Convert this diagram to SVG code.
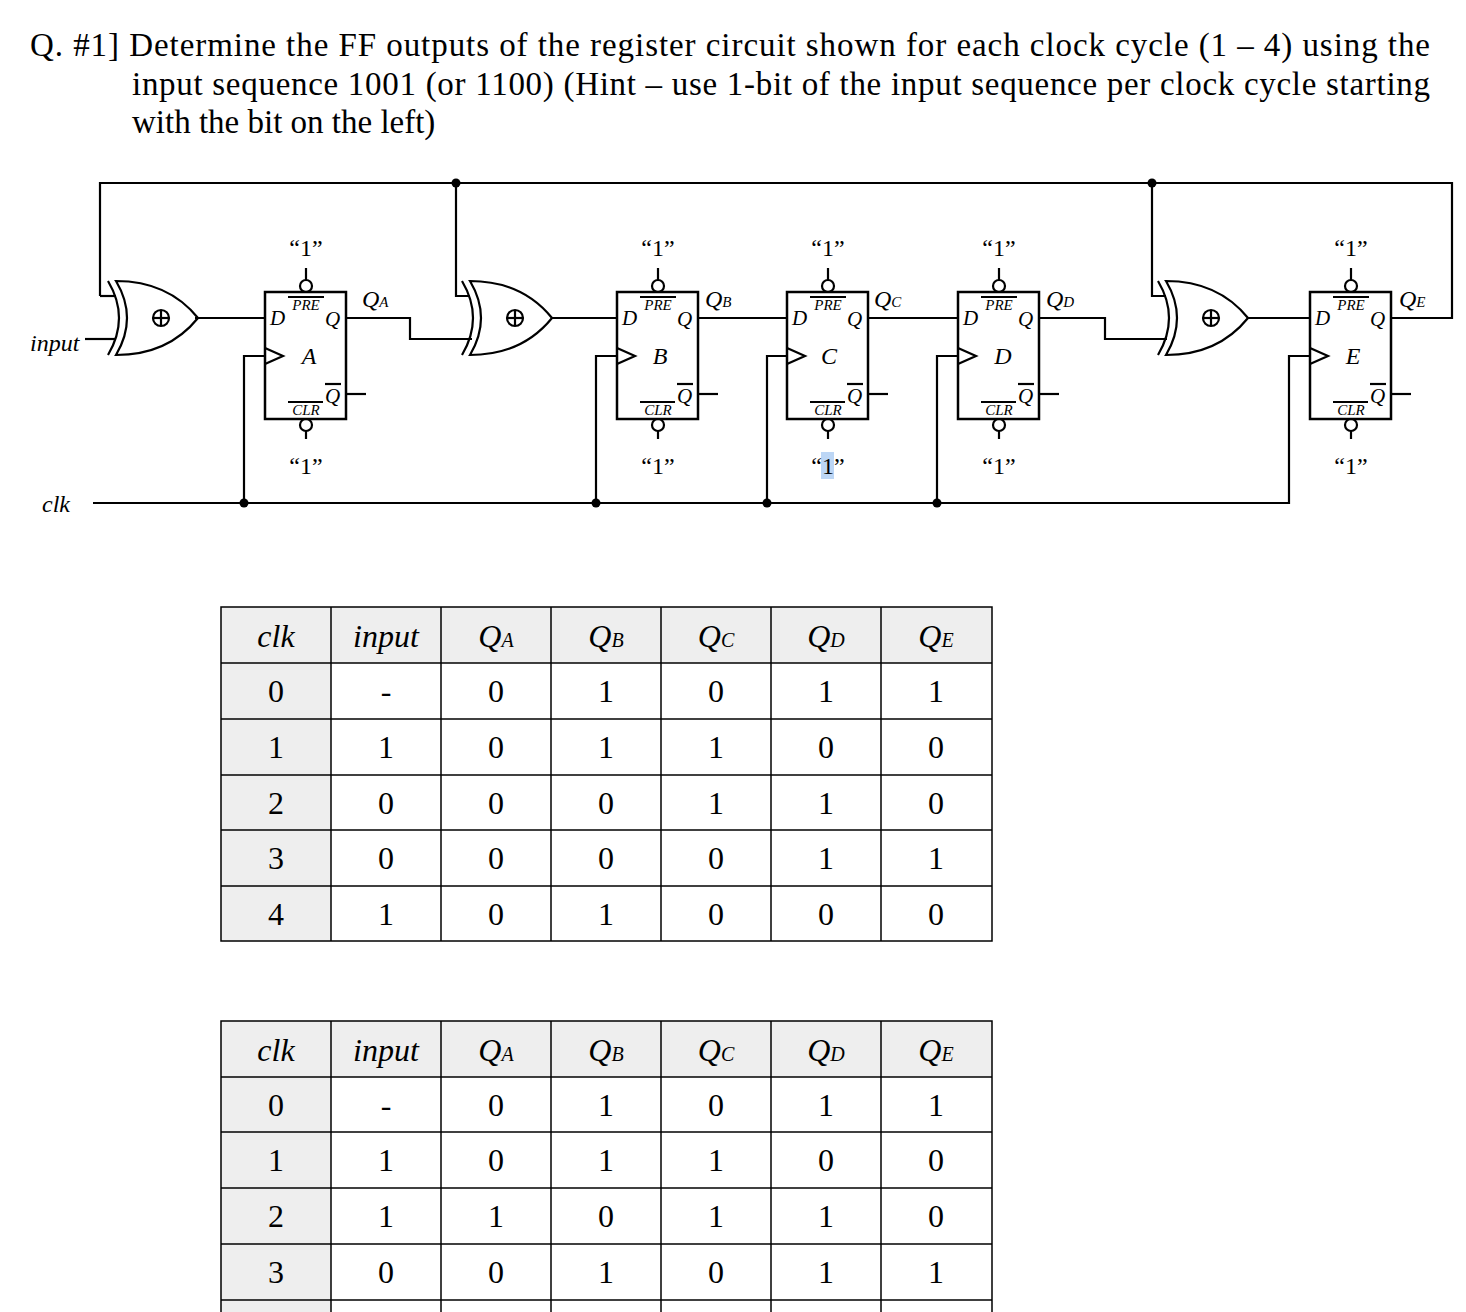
<svg xmlns="http://www.w3.org/2000/svg" width="1466" height="1312" viewBox="0 0 1466 1312">
<style>
.w{fill:none;stroke:#000;stroke-width:2.2}
.t{font-family:"Liberation Serif",serif;fill:#000}
.i{font-style:italic}
.ff{fill:#fff;stroke:#000;stroke-width:2.5}
.c{text-anchor:middle}
.g{fill:#eeeeee}
.cell{fill:none;stroke:#000;stroke-width:1.5}
.tb{font-family:"Liberation Serif",serif;font-size:32px;text-anchor:middle}
</style>
<defs>
<g id="ffsym">
<rect class="ff" x="0" y="0" width="81" height="127"/>
<circle class="w" cx="41" cy="-6" r="6"/><line class="w" x1="41" y1="-12" x2="41" y2="-24"/>
<circle class="w" cx="41" cy="133" r="6"/><line class="w" x1="41" y1="139" x2="41" y2="147"/>
<path class="w" d="M0,56 L18,64 L0,72"/>
<text class="t i" x="5" y="33" font-size="21">D</text>
<text class="t i c" x="41" y="18" font-size="15">PRE</text><line class="w" stroke-width="1.2" x1="23" y1="5" x2="59" y2="5"/>
<text class="t i" x="60" y="34" font-size="21">Q</text>
<text class="t i" x="60" y="111" font-size="21">Q</text><line class="w" stroke-width="1.2" x1="60" y1="92" x2="76" y2="92"/>
<text class="t i c" x="41" y="123" font-size="15">CLR</text><line class="w" stroke-width="1.2" x1="23" y1="110" x2="58" y2="110"/>
<line class="w" x1="81" y1="102" x2="101" y2="102"/>
<text class="t c" x="41" y="-36" font-size="24">“1”</text>
<text class="t c" x="41" y="182" font-size="24">“1”</text>
</g>
<g id="xor">
<path class="w" stroke-width="2.5" d="M0,-37 Q52,-37 82,0 Q52,37 0,37 Q22,0 0,-37 Z"/>
<path class="w" stroke-width="2.5" d="M-8,-37 Q14,0 -8,37"/>
<circle class="w" stroke-width="1.8" cx="45" cy="0" r="8"/>
<line class="w" stroke-width="1.8" x1="37" y1="0" x2="53" y2="0"/><line class="w" stroke-width="1.8" x1="45" y1="-8" x2="45" y2="8"/>
</g>
</defs>

<g id="title" class="t" font-size="33">
<text x="30" y="56" textLength="1400" lengthAdjust="spacing">Q. #1] Determine the FF outputs of the register circuit shown for each clock cycle (1 – 4) using the</text>
<text x="132" y="95" textLength="1298" lengthAdjust="spacing">input sequence 1001 (or 1100) (Hint – use 1-bit of the input sequence per clock cycle starting</text>
<text x="132" y="133">with the bit on the left)</text>
</g>

<g id="connectors">
<polyline class="w" points="100,296 100,183 1452,183 1452,318 1391,318"/>
<polyline class="w" points="456,183 456,296 470,296"/>
<polyline class="w" points="1152,183 1152,296 1166,296"/>
<polyline class="w" points="100,296 116,296"/>
<polyline class="w" points="85,339 116,339"/>
<line class="w" x1="195" y1="318" x2="265" y2="318"/>
<polyline class="w" points="346,318 410,318 410,339 472,339"/>
<line class="w" x1="551" y1="318" x2="617" y2="318"/>
<line class="w" x1="698" y1="318" x2="787" y2="318"/>
<line class="w" x1="868" y1="318" x2="958" y2="318"/>
<polyline class="w" points="1039,318 1105,318 1105,339 1167,339"/>
<line class="w" x1="1247" y1="318" x2="1310" y2="318"/>
<polyline class="w" points="93,503 1289,503 1289,356 1310,356"/>
<polyline class="w" points="244,503 244,356 265,356"/>
<polyline class="w" points="596,503 596,356 617,356"/>
<polyline class="w" points="767,503 767,356 787,356"/>
<polyline class="w" points="937,503 937,356 958,356"/>
<circle cx="456" cy="183" r="4.5"/><circle cx="1152" cy="183" r="4.5"/>
<circle cx="244" cy="503" r="4.5"/><circle cx="596" cy="503" r="4.5"/><circle cx="767" cy="503" r="4.5"/><circle cx="937" cy="503" r="4.5"/>
</g>

<g id="xor1"><use href="#xor" transform="translate(116,318)"/></g>
<g id="xor2"><use href="#xor" transform="translate(470,318)"/></g>
<g id="xor3"><use href="#xor" transform="translate(1166,318)"/></g>

<rect x="821" y="452" width="13" height="27" fill="#bcd6f5"/>
<g id="ffA"><use href="#ffsym" transform="translate(265,292)"/><text class="t i c" x="309" y="364" font-size="24">A</text></g>
<g id="ffB"><use href="#ffsym" transform="translate(617,292)"/><text class="t i c" x="660" y="364" font-size="24">B</text></g>
<g id="ffC"><use href="#ffsym" transform="translate(787,292)"/><text class="t i c" x="829" y="364" font-size="24">C</text></g>
<g id="ffD"><use href="#ffsym" transform="translate(958,292)"/><text class="t i c" x="1003" y="364" font-size="24">D</text></g>
<g id="ffE"><use href="#ffsym" transform="translate(1310,292)"/><text class="t i c" x="1353" y="364" font-size="24">E</text></g>

<g id="labels" class="t i" font-size="24">
<text x="362" y="307">Q<tspan font-size="15">A</tspan></text>
<text x="705" y="307">Q<tspan font-size="15">B</tspan></text>
<text x="874" y="307">Q<tspan font-size="15">C</tspan></text>
<text x="1046" y="307">Q<tspan font-size="15">D</tspan></text>
<text x="1399" y="307">Q<tspan font-size="15">E</tspan></text>
<text x="30" y="351">input</text>
<text x="42" y="512">clk</text>
</g>

<g id="table1">
<rect class="g" x="221" y="607" width="771" height="56"/>
<rect class="g" x="221" y="663" width="110" height="278"/>
<g class="cell">
<rect x="221" y="607" width="771" height="334"/>
<line x1="221" y1="663" x2="992" y2="663"/><line x1="221" y1="719" x2="992" y2="719"/><line x1="221" y1="775" x2="992" y2="775"/><line x1="221" y1="830" x2="992" y2="830"/><line x1="221" y1="886" x2="992" y2="886"/>
<line x1="331" y1="607" x2="331" y2="941"/><line x1="441" y1="607" x2="441" y2="941"/><line x1="551" y1="607" x2="551" y2="941"/><line x1="661" y1="607" x2="661" y2="941"/><line x1="771" y1="607" x2="771" y2="941"/><line x1="881" y1="607" x2="881" y2="941"/>
</g>
<g class="tb">
<text class="i" x="276" y="647">clk</text><text class="i" x="386" y="647">input</text>
<text class="i" x="496" y="647">Q<tspan font-size="20">A</tspan></text><text class="i" x="606" y="647">Q<tspan font-size="20">B</tspan></text><text class="i" x="716" y="647">Q<tspan font-size="20">C</tspan></text><text class="i" x="826" y="647">Q<tspan font-size="20">D</tspan></text><text class="i" x="936" y="647">Q<tspan font-size="20">E</tspan></text>
<text x="276" y="702">0</text><text x="386" y="702">-</text><text x="496" y="702">0</text><text x="606" y="702">1</text><text x="716" y="702">0</text><text x="826" y="702">1</text><text x="936" y="702">1</text>
<text x="276" y="758">1</text><text x="386" y="758">1</text><text x="496" y="758">0</text><text x="606" y="758">1</text><text x="716" y="758">1</text><text x="826" y="758">0</text><text x="936" y="758">0</text>
<text x="276" y="814">2</text><text x="386" y="814">0</text><text x="496" y="814">0</text><text x="606" y="814">0</text><text x="716" y="814">1</text><text x="826" y="814">1</text><text x="936" y="814">0</text>
<text x="276" y="869">3</text><text x="386" y="869">0</text><text x="496" y="869">0</text><text x="606" y="869">0</text><text x="716" y="869">0</text><text x="826" y="869">1</text><text x="936" y="869">1</text>
<text x="276" y="925">4</text><text x="386" y="925">1</text><text x="496" y="925">0</text><text x="606" y="925">1</text><text x="716" y="925">0</text><text x="826" y="925">0</text><text x="936" y="925">0</text>
</g>
</g>

<g id="table2">
<rect class="g" x="221" y="1021" width="771" height="56"/>
<rect class="g" x="221" y="1077" width="110" height="240"/>
<g class="cell">
<polyline points="221,1317 221,1021 992,1021 992,1317"/>
<line x1="221" y1="1077" x2="992" y2="1077"/><line x1="221" y1="1132" x2="992" y2="1132"/><line x1="221" y1="1188" x2="992" y2="1188"/><line x1="221" y1="1244" x2="992" y2="1244"/><line x1="221" y1="1300" x2="992" y2="1300"/>
<line x1="331" y1="1021" x2="331" y2="1317"/><line x1="441" y1="1021" x2="441" y2="1317"/><line x1="551" y1="1021" x2="551" y2="1317"/><line x1="661" y1="1021" x2="661" y2="1317"/><line x1="771" y1="1021" x2="771" y2="1317"/><line x1="881" y1="1021" x2="881" y2="1317"/>
</g>
<g class="tb">
<text class="i" x="276" y="1061">clk</text><text class="i" x="386" y="1061">input</text>
<text class="i" x="496" y="1061">Q<tspan font-size="20">A</tspan></text><text class="i" x="606" y="1061">Q<tspan font-size="20">B</tspan></text><text class="i" x="716" y="1061">Q<tspan font-size="20">C</tspan></text><text class="i" x="826" y="1061">Q<tspan font-size="20">D</tspan></text><text class="i" x="936" y="1061">Q<tspan font-size="20">E</tspan></text>
<text x="276" y="1116">0</text><text x="386" y="1116">-</text><text x="496" y="1116">0</text><text x="606" y="1116">1</text><text x="716" y="1116">0</text><text x="826" y="1116">1</text><text x="936" y="1116">1</text>
<text x="276" y="1171">1</text><text x="386" y="1171">1</text><text x="496" y="1171">0</text><text x="606" y="1171">1</text><text x="716" y="1171">1</text><text x="826" y="1171">0</text><text x="936" y="1171">0</text>
<text x="276" y="1227">2</text><text x="386" y="1227">1</text><text x="496" y="1227">1</text><text x="606" y="1227">0</text><text x="716" y="1227">1</text><text x="826" y="1227">1</text><text x="936" y="1227">0</text>
<text x="276" y="1283">3</text><text x="386" y="1283">0</text><text x="496" y="1283">0</text><text x="606" y="1283">1</text><text x="716" y="1283">0</text><text x="826" y="1283">1</text><text x="936" y="1283">1</text>
</g>
</g>
</svg>
